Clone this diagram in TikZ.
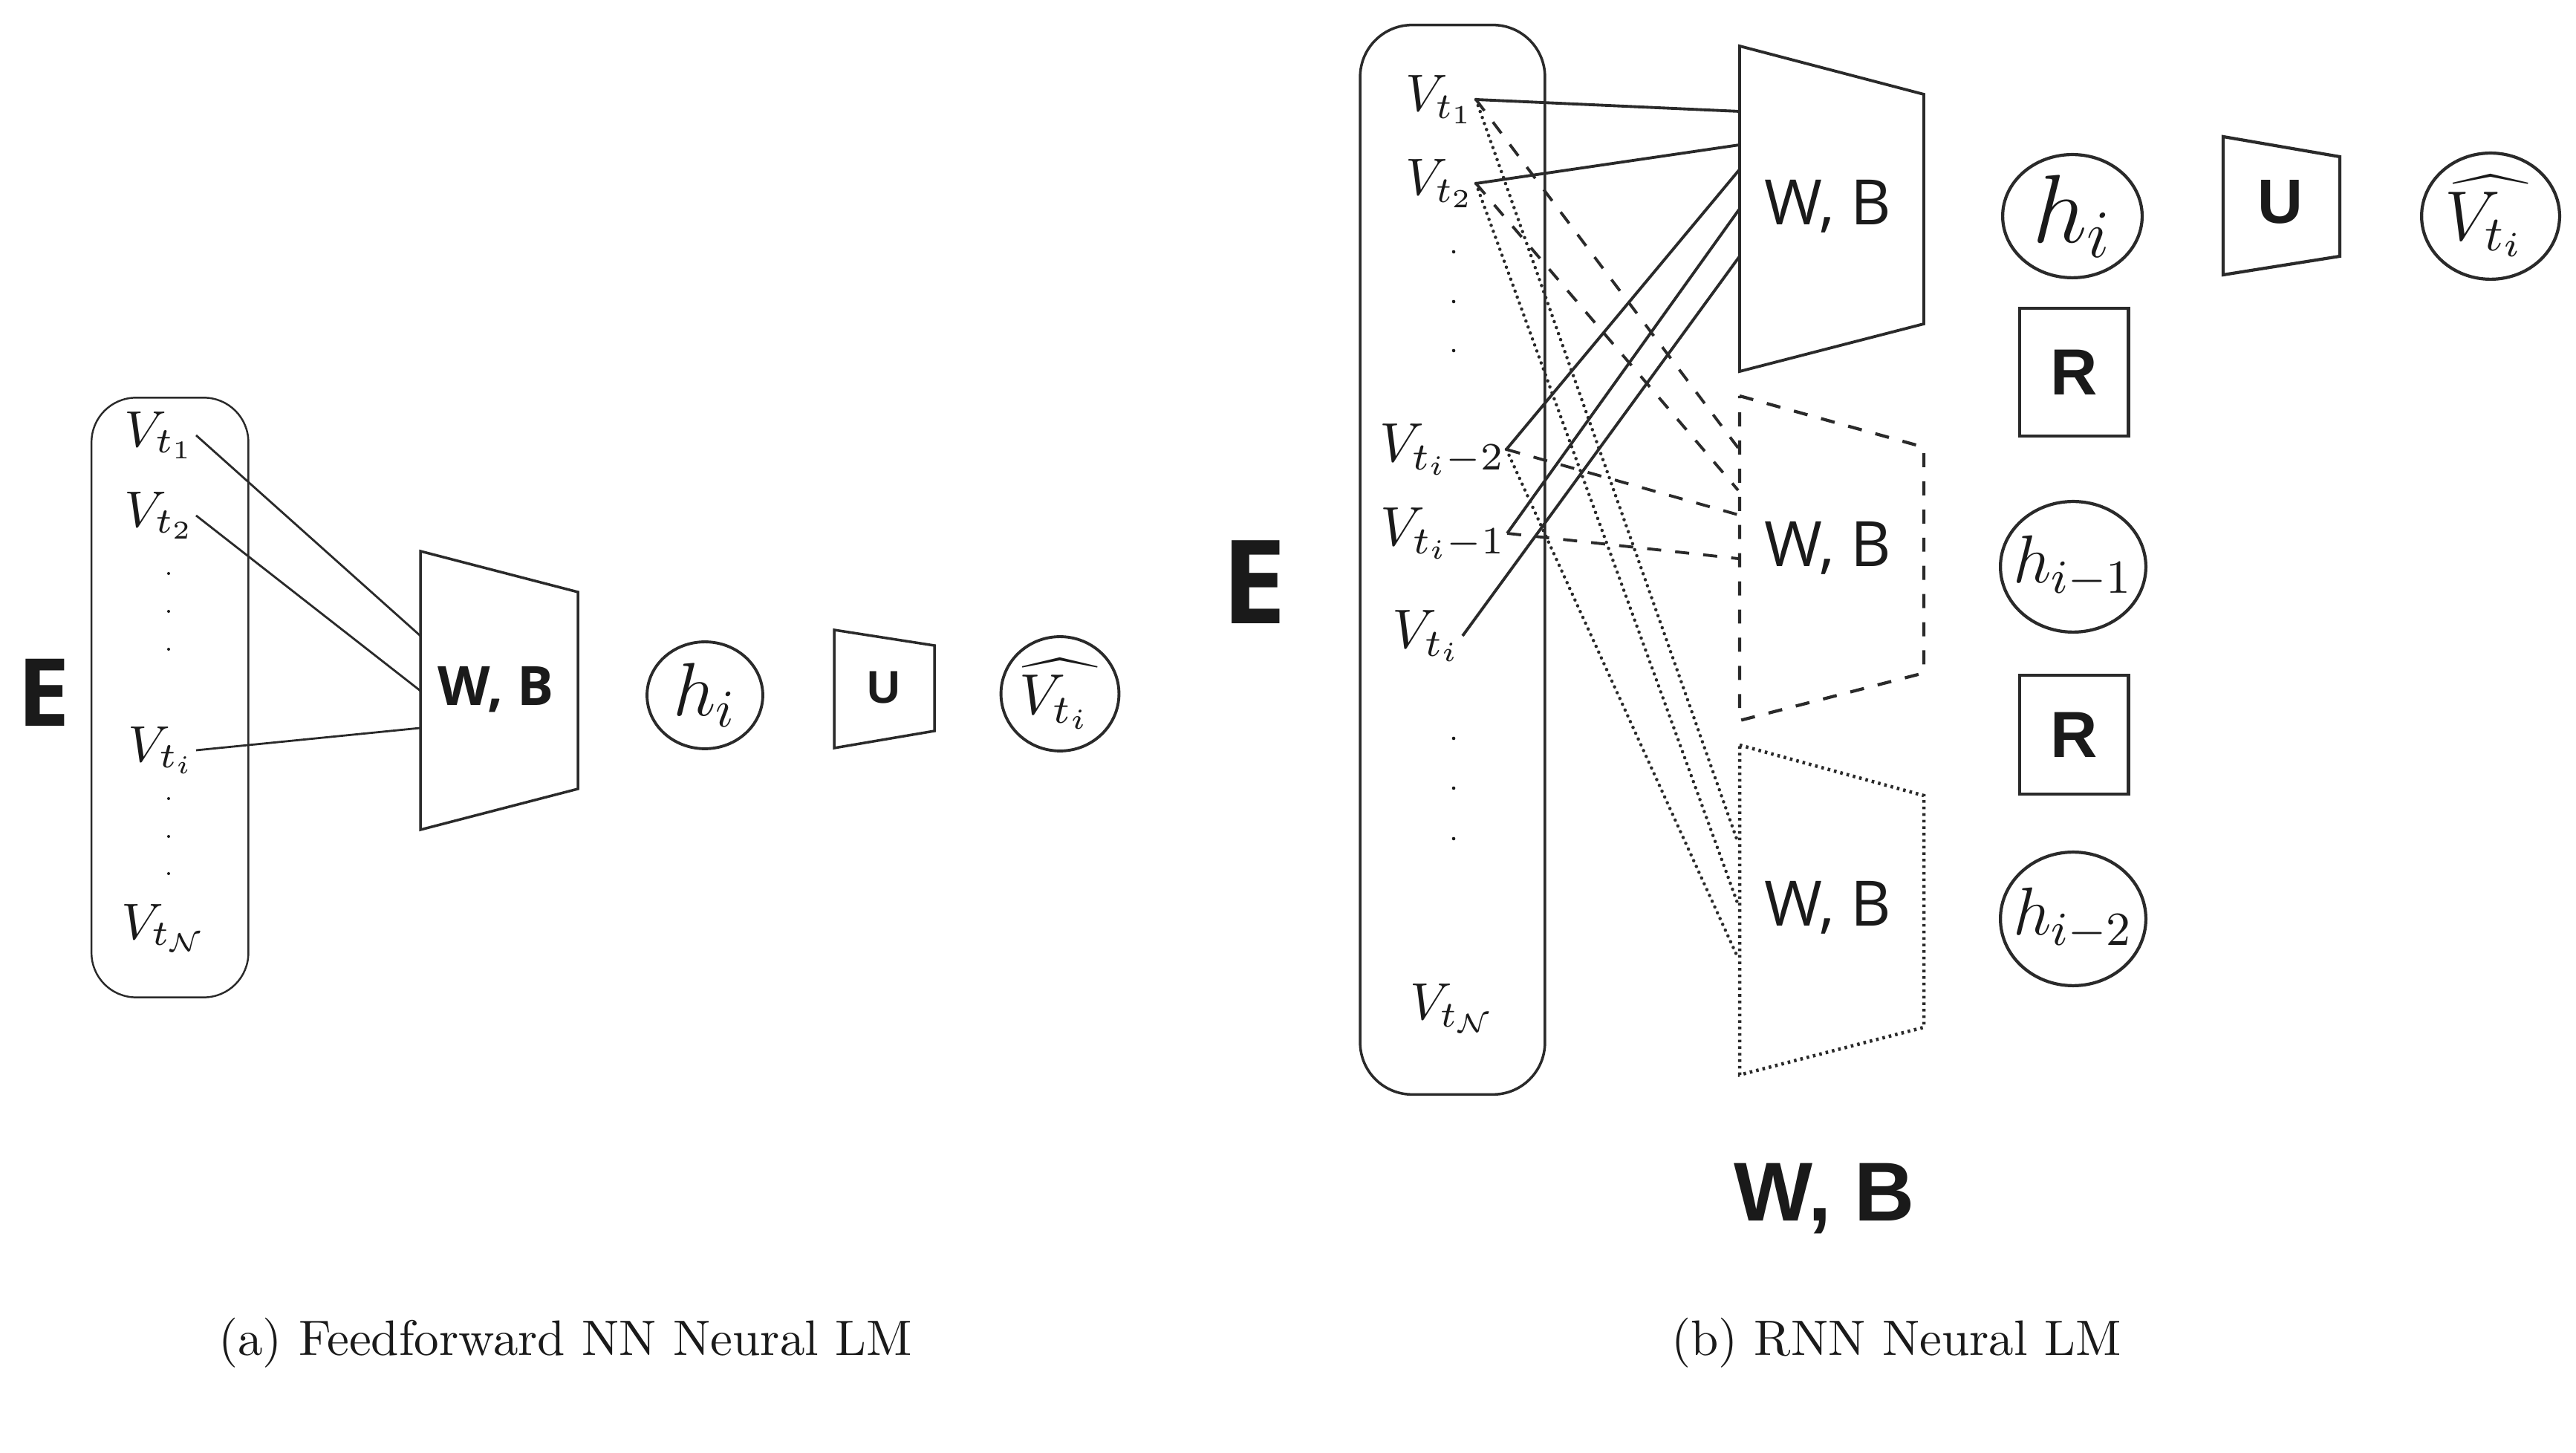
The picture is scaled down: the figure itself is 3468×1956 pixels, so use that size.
\RequirePackage{fix-cm}
\documentclass[tikz,border=0pt]{standalone}
\usepackage{fontspec}
\newfontfamily\osans{Open Sans}
\newfontfamily\lsans{Liberation Sans}
\usetikzlibrary{shapes.geometric}
\definecolor{lc}{HTML}{2A2A2A}
\definecolor{tc}{HTML}{1A1A1A}
\begin{document}
\begin{tikzpicture}[x=0.005cm,y=-0.005cm,
  every node/.style={inner sep=0pt,text=tc},
  vlab/.style={inner sep=0pt,font=\fontsize{9.8}{11}\selectfont},
  vlabb/.style={inner sep=0pt,font=\fontsize{10}{12}\selectfont},
  vlabc/.style={inner sep=0pt,font=\fontsize{10.6}{13}\selectfont},
  lnL/.style={draw=lc,line width=0.4pt},
  lnR/.style={draw=lc,line width=0.55pt},
  dashln/.style={draw=lc,line width=0.55pt,dash pattern=on 2.7pt off 2.7pt},
  dotln/.style={draw=lc,line width=0.65pt,line cap=round,dash pattern=on 0pt off 1.22pt},
  trapL/.style={draw=lc,line width=0.5pt},
  trapR/.style={draw=lc,line width=0.55pt},
  ellb/.style={ellipse,draw=lc,line width=0.55pt},
  rbox/.style={rectangle,draw=lc,line width=0.6pt,font=\lsans\bfseries\fontsize{12.5}{14}\selectfont},
  dotmark/.style={fill=tc},
  bigE/.style={font=\osans\bfseries\fontsize{18}{20}\selectfont},
  wbreg/.style={font=\osans\fontsize{12}{14}\selectfont},
  caption/.style={anchor=base,font=\fontsize{9.55}{11}\selectfont}]
\useasboundingbox (0,0) rectangle (3468,1956);

% ================= (a) Feedforward =================
\node[bigE] (EL) at (59,932) {E};
\node[draw=lc,line width=0.35pt,rounded corners=0.3cm,minimum width=1.057cm,minimum height=4.04cm] (embL) at (228.8,939) {};
\node[vlab,anchor=east] (l1) at (264,586) {$V_{t_1}$};
\node[vlab,anchor=east] (l2) at (264,694) {$V_{t_2}$};
\node[vlab,anchor=east] (li) at (264,1010) {$V_{t_i}$};
\node[vlab] (lN) at (221,1249) {$V_{t_{\mathcal{N}}}$};
\foreach \yy in {772,823,874,1075,1126,1176} \fill[dotmark] (227,\yy) circle[radius=0.01cm];

\draw[trapL] (566,742) -- (778,797) -- (778,1062) -- (566,1117) -- cycle;
\node[font=\osans\bfseries\fontsize{10.4}{12}\selectfont] (wbL) at (668,928) {W, B};
\coordinate (pl1) at (566,856);
\coordinate (pl2) at (566,930);
\coordinate (pl3) at (566,980);
\draw[lnL] (l1.east) -- (pl1);
\draw[lnL] (l2.east) -- (pl2);
\draw[lnL] (li.east) -- (pl3);

\node[ellb,minimum width=0.78cm,minimum height=0.72cm,font=\fontsize{14.5}{16}\selectfont] (hL) at (949,936) {$h_i$};
\draw[trapL] (1123,848) -- (1258,869) -- (1258,984) -- (1123,1007) -- cycle;
\node[font=\lsans\bfseries\fontsize{8.8}{10}\selectfont] (uL) at (1190,926) {U};
\node[ellb,minimum width=0.795cm,minimum height=0.77cm,font=\fontsize{11}{13}\selectfont] (vhL) at (1427,934) {$\widehat{V_{t_i}\mkern3mu}$};

\node[caption] (capa) at (761,1824) {(a) Feedforward NN Neural LM};

% ================= (b) RNN =================
\node[font=\osans\bfseries\fontsize{22.3}{24}\selectfont] (ER) at (1688,784) {E};
\node[draw=lc,line width=0.5pt,rounded corners=0.35cm,minimum width=1.245cm,minimum height=7.205cm] (embR) at (1955.5,753.5) {};
\node[vlabb,anchor=east] (r1) at (1987,134) {$V_{t_1}$};
\node[vlabb,anchor=east] (r2) at (1987,247) {$V_{t_2}$};
\node[vlabc,anchor=east] (r3) at (2028,605) {$V_{t_i-2}$};
\node[vlabc,anchor=east] (r4) at (2029,718) {$V_{t_i-1}$};
\node[vlabc,anchor=east] (r5) at (1969,856) {$V_{t_i}$};
\node[vlabb] (rN) at (1956,1357) {$V_{t_{\mathcal{N}}}$};
\foreach \yy in {339,406,472,994,1061,1129} \fill[dotmark] (1957,\yy) circle[radius=0.0115cm];

% trapezoids
\draw[trapR] (2342,62) -- (2590,127) -- (2590,436) -- (2342,500) -- cycle;
\draw[trapR,line width=0.6pt,dash pattern=on 2.7pt off 2.7pt] (2342,533) -- (2590,602) -- (2590,906) -- (2342,970) -- cycle;
\draw[trapR,line width=0.65pt,dash pattern=on 0.5pt off 0.75pt] (2342,1003) -- (2590,1071) -- (2590,1383) -- (2342,1447) -- cycle;
\node[wbreg] (wb1) at (2461,278) {W, B};
\node[wbreg] (wb2) at (2461,738) {W, B};
\node[wbreg] (wb3) at (2461,1222) {W, B};

% ports
\coordinate (s1) at (2342,150);
\coordinate (s2) at (2342,195);
\coordinate (s3) at (2342,228);
\coordinate (s4) at (2342,281);
\coordinate (s5) at (2342,345);
\coordinate (d1) at (2340,603);
\coordinate (d2) at (2340,660);
\coordinate (d3) at (2340,693);
\coordinate (d4) at (2340,752);
\coordinate (o1) at (2340,1135);
\coordinate (o2) at (2340,1218);
\coordinate (o3) at (2340,1290);

\draw[lnR] (r1.east) -- (s1);
\draw[lnR] (r2.east) -- (s2);
\draw[lnR] (r3.east) -- (s3);
\draw[lnR] (r4.east) -- (s4);
\draw[lnR] (r5.east) -- (s5);
\draw[dashln] (r1.east) -- (d1);
\draw[dashln] (r2.east) -- (d2);
\draw[dashln] (r3.east) -- (d3);
\draw[dashln] (r4.east) -- (d4);
\draw[dotln] (r1.east) -- (o1);
\draw[dotln] (r2.east) -- (o2);
\draw[dotln] (r3.east) -- (o3);

% right column
\node[ellb,line width=0.6pt,minimum width=0.94cm,minimum height=0.83cm,font=\fontsize{18.6}{20}\selectfont] (hR) at (2790,291) {$h_i$};
\node[rbox,minimum width=0.735cm,minimum height=0.86cm] (R1) at (2792,501) {R};
\node[ellb,line width=0.6pt,inner sep=-2.5pt,minimum width=0.98cm,minimum height=0.88cm,font=\fontsize{13}{15}\selectfont] (hR1) at (2791,763) {$h_{i-1}$};
\node[rbox,minimum width=0.735cm,minimum height=0.8cm] (R2) at (2792,989) {R};
\node[ellb,line width=0.6pt,inner sep=-2.5pt,minimum width=0.98cm,minimum height=0.9cm,font=\fontsize{13}{15}\selectfont] (hR2) at (2791,1237) {$h_{i-2}$};
\draw[trapR,line width=0.6pt] (2993,184) -- (3150,211) -- (3150,345) -- (2993,370) -- cycle;
\node[font=\lsans\bfseries\fontsize{12}{14}\selectfont] (uR) at (3070,272) {U};
\node[ellb,line width=0.6pt,minimum width=0.93cm,minimum height=0.85cm,font=\fontsize{13.5}{15}\selectfont] (vhR) at (3353,291) {$\widehat{V_{t_i}\mkern3mu}$};

\node[font=\lsans\bfseries\fontsize{16}{18}\selectfont] (wbBig) at (2456,1614) {W, B};

\node[caption] (capb) at (2553,1824) {(b) RNN Neural LM};
\end{tikzpicture}
\end{document}
